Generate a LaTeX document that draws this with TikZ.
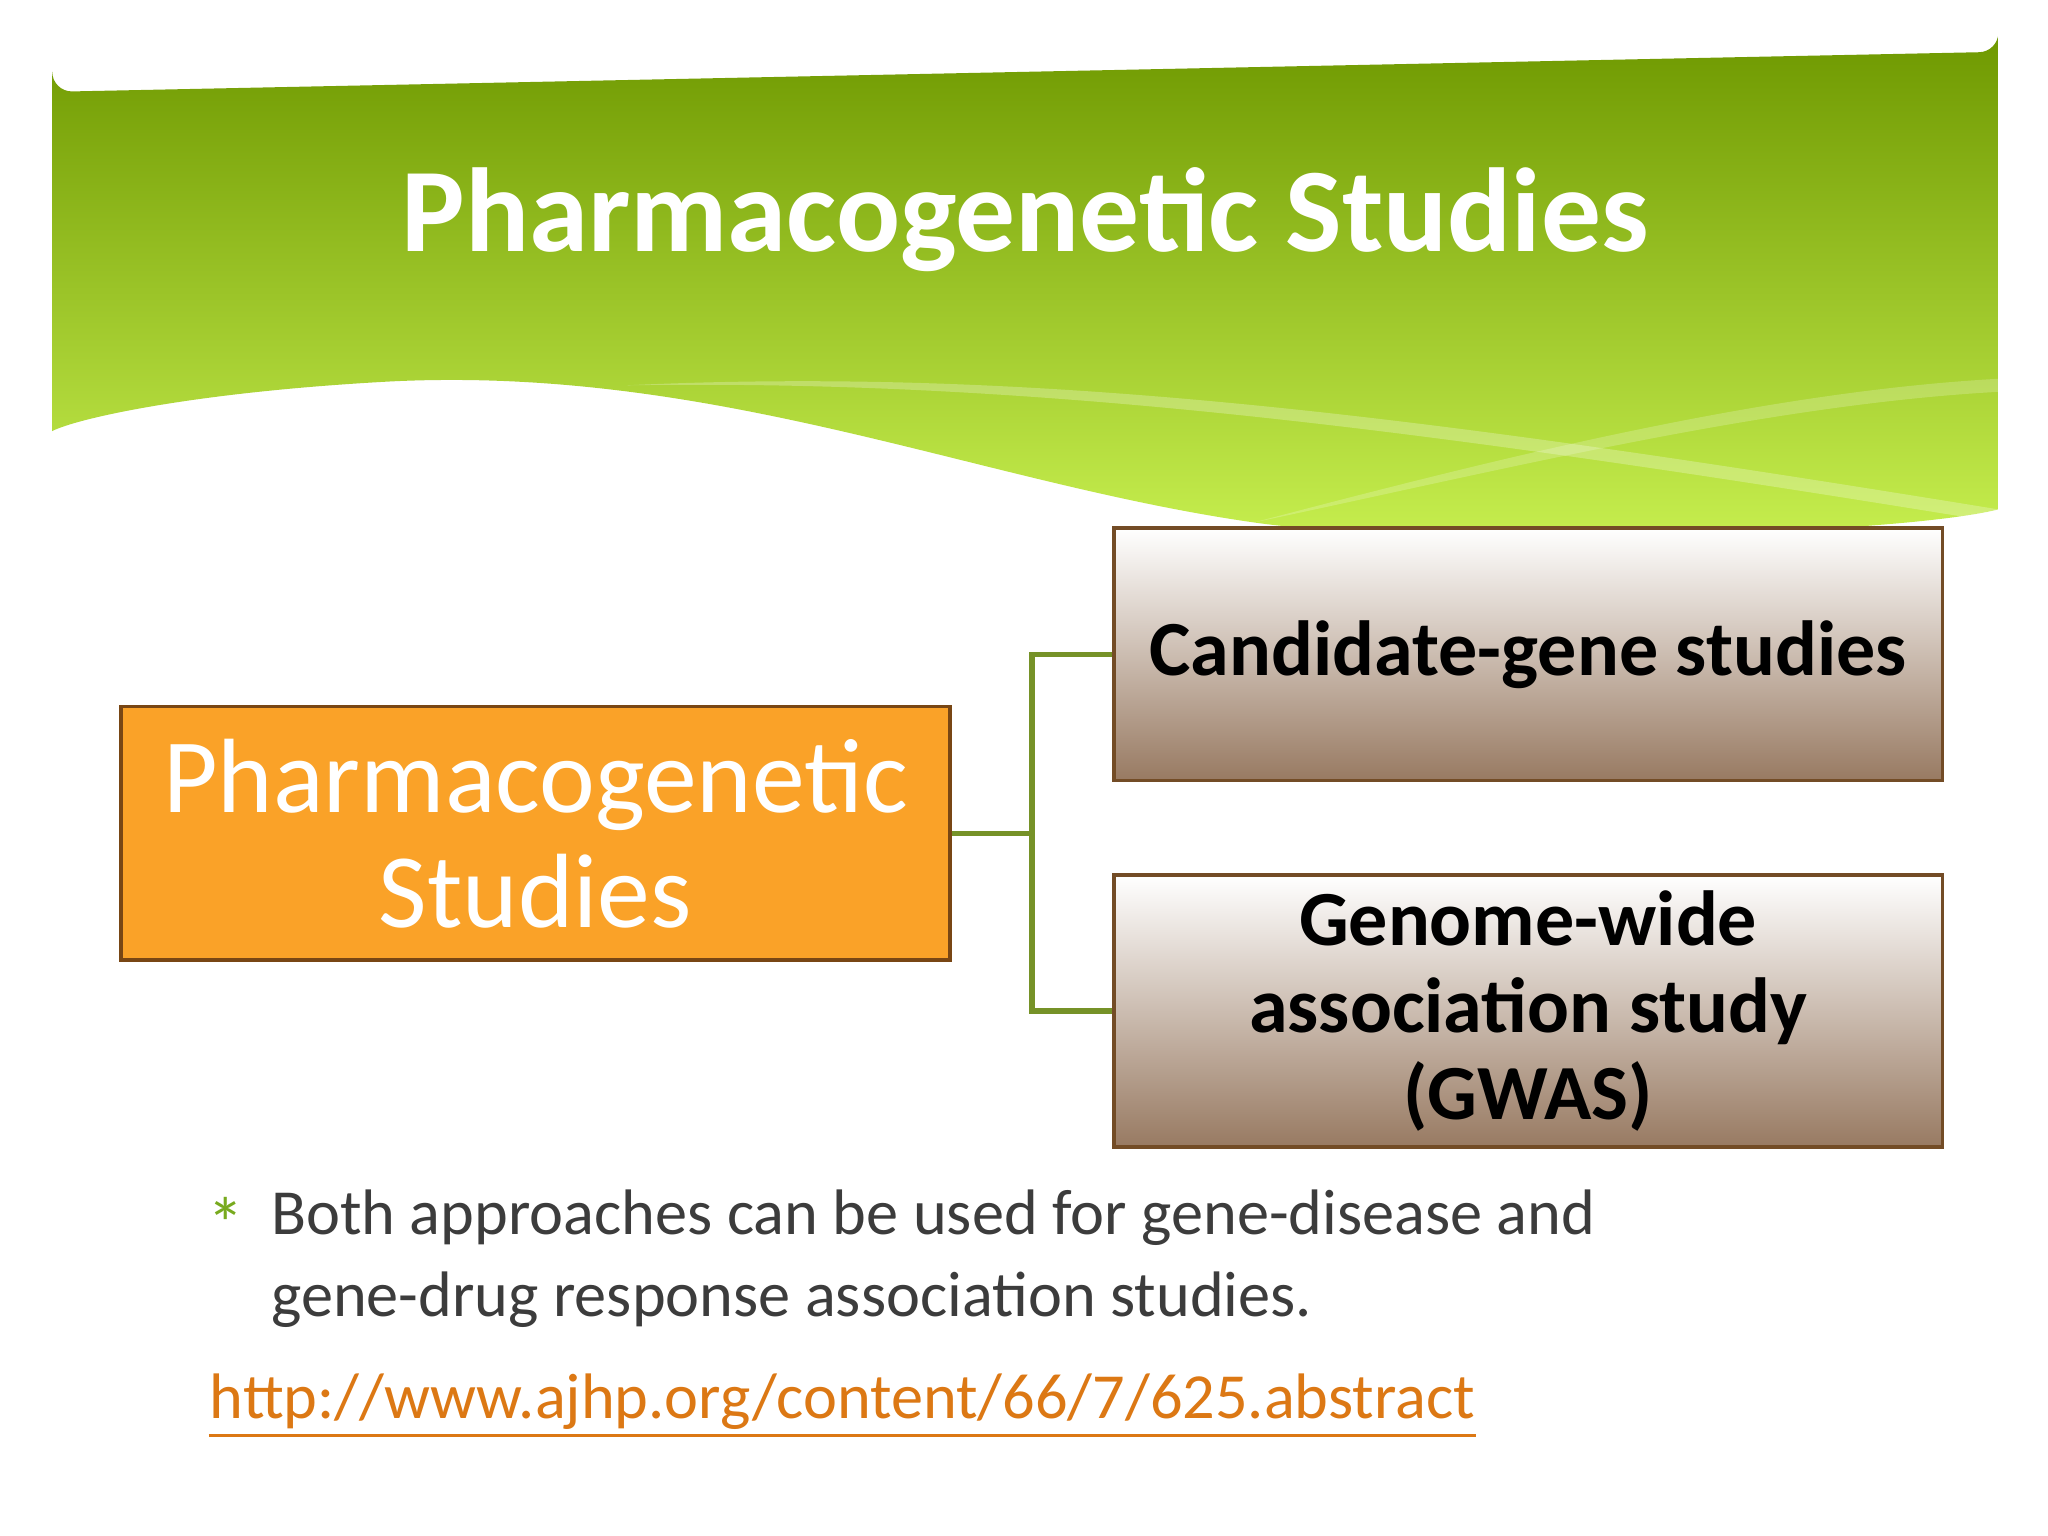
\documentclass[tikz,border=0pt]{standalone}
\usepackage{fontspec}
\setmainfont{Carlito}
\definecolor{linkor}{RGB}{220,120,20}
\definecolor{connG}{RGB}{118,146,40}
\definecolor{boxbot}{RGB}{152,122,98}
\definecolor{hdtop}{RGB}{110,152,0}
\definecolor{hdbot}{RGB}{200,240,80}
\definecolor{orfill}{RGB}{250,162,40}
\definecolor{ordraw}{RGB}{120,70,20}
\definecolor{bulG}{RGB}{120,170,30}
\definecolor{txtG}{RGB}{60,60,60}
\begin{document}
\begin{tikzpicture}[x=0.01cm,y=-0.01cm,
  gbox/.style={draw=brown!60!black, line width=0.8pt, top color=white, bottom color=boxbot, minimum width=6.34cm, minimum height=1.93cm, align=center, font=\bfseries\fontsize{17}{21}\selectfont},
  conn/.style={draw=connG, line width=1.2pt}]
\useasboundingbox (0,0) rectangle (1568,1176);
\fill[white] (0,0) rectangle (1568,1176);
% header
\shade[top color=hdtop, bottom color=hdbot]
 (40,330) -- (40,55) arc[start angle=180,end angle=90,radius=15] -- (1515,40) arc[start angle=90,end angle=0,radius=15] -- (1530,390)
 .. controls (1450,410) and (1100,420) .. (960,400)
 .. controls (750,370) and (550,280) .. (300,292)
 .. controls (150,300) and (60,320) .. (40,330) -- cycle;
\fill[white,opacity=0.25] (480,295) .. controls (800,290) and (1100,330) .. (1530,400) -- (1530,390) .. controls (1100,320) and (800,280) .. (480,295) -- cycle;
\fill[white,opacity=0.2] (960,400) .. controls (1150,350) and (1350,300) .. (1530,290) -- (1530,300) .. controls (1350,310) and (1150,360) .. (960,400) -- cycle;
\node[text=white, font=\bfseries\fontsize{26}{30}\selectfont] (title) at (785,168) {Pharmacogenetic Studies};
% boxes
\node[draw=ordraw, line width=0.8pt, fill=orfill, minimum width=6.34cm, minimum height=1.94cm, align=center, text=white, font=\fontsize{23}{25}\selectfont, inner sep=0pt] (ps) at (410,638) {Pharmacogenetic\\Studies};
\node[gbox] (cg) at (1170,501) {Candidate-gene studies};
\node[gbox, font=\bfseries\fontsize{17}{19}\selectfont] (gw) at (1170,774) {Genome-wide\\association study\\(GWAS)};
\coordinate (j) at (790,638);
\draw[conn] (ps.east) -- (j);
\draw[conn] (cg.west) -| (j) |- (gw.west);
% bullet
\node[text=bulG, font=\fontsize{16}{16}\selectfont] (star) at (173,937) {*};
\node[anchor=north west, align=left, text=txtG, font=\fontsize{14}{18}\selectfont, inner sep=0pt] (bt) at (207,910) {Both approaches can be used for gene-disease and\\gene-drug response association studies.};
\node[anchor=west, text=linkor, font=\fontsize{14}{16}\selectfont, inner sep=0pt] (link) at (160,1073) {http://www.ajhp.org/content/66/7/625.abstract};
\draw[linkor, line width=0.5pt] ([yshift=-0.04cm]link.south west) -- ([yshift=-0.04cm]link.south east);
\end{tikzpicture}
\end{document}
